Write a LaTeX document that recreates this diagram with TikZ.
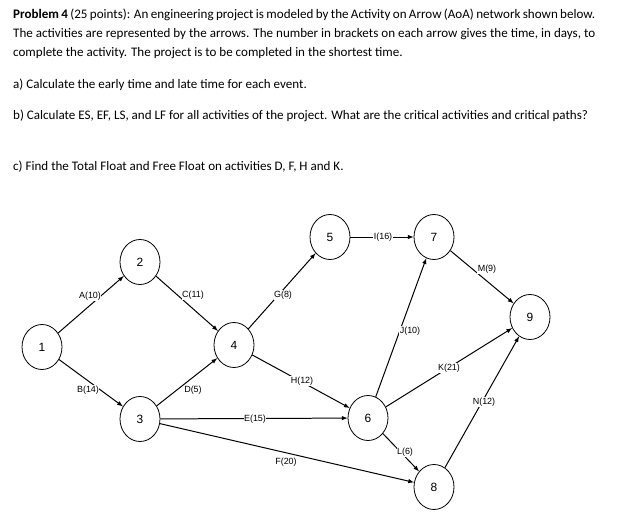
\documentclass[tikz,border=0pt]{standalone}
\usepackage{fontspec}
\usetikzlibrary{shapes.geometric}
\setmainfont{Carlito}
\newfontfamily\lab{Liberation Sans}
\begin{document}
\begin{tikzpicture}[x=1bp,y=-1bp,
  ev/.style={draw,ellipse,minimum width=40bp,minimum height=45bp,inner sep=0pt,line width=0.8pt,font=\lab\fontsize{12}{14}\selectfont},
  arr/.style={-latex,line width=1pt},
  lb/.style={fill=white,inner sep=0.5pt,font=\lab\fontsize{9}{11}\selectfont},
  para/.style={anchor=north west,inner sep=0pt,text width=582bp,align=justify,font=\fontsize{13.1}{19}\selectfont}]
\useasboundingbox (0,0) rectangle (625,525);
\node[para] (t1) at (13,9) {\textbf{Problem 4} (25 points): An engineering project is modeled by the Activity on Arrow (AoA) network shown below. The activities are represented by the arrows. The number in brackets on each arrow gives the time, in days, to complete the activity. The project is to be completed in the shortest time.};
\node[para] (t2) at (13,79) {a) Calculate the early time and late time for each event.};
\node[para] (t3) at (13,110) {b) Calculate ES, EF, LS, and LF for all activities of the project. What are the critical activities and critical paths?};
\node[para] (t4) at (13,161) {c) Find the Total Float and Free Float on activities D, F, H and K.};
\node[ev] (n1) at (42,347) {1};
\node[ev] (n2) at (140,262) {2};
\node[ev] (n3) at (140,419) {3};
\node[ev] (n4) at (234,345) {4};
\node[ev] (n5) at (330,237) {5};
\node[ev] (n7) at (434,237) {7};
\node[ev] (n9) at (530,317) {9};
\node[ev] (n6) at (368,418) {6};
\node[ev] (n8) at (434,487) {8};
\draw[arr] (n1) -- (n2);
\draw[arr] (n1) -- (n3);
\draw[arr] (n2) -- (n4);
\draw[arr] (n3) -- (n4);
\draw[arr] (n4) -- (n5);
\draw[arr] (n4) -- (n6);
\draw[arr] (n3) -- (n6);
\draw[arr] (n3) -- (n8);
\draw[arr] (n5) -- (n7);
\draw[arr] (n6) -- (n7);
\draw[arr] (n6) -- (n9);
\draw[arr] (n6) -- (n8);
\draw[arr] (n7) -- (n9);
\draw[arr] (n8) -- (n9);
\node[lb] (la) at (90,296) {A(10)};
\node[lb] (lb2) at (88,390) {B(14)};
\node[lb] (lc) at (193,295) {C(11)};
\node[lb] (ld) at (193,390) {D(5)};
\node[lb] (le) at (255,419) {E(15)};
\node[lb] (lf) at (286,462) {F(20)};
\node[lb] (lg) at (283,295) {G(8)};
\node[lb] (lh) at (302,381) {H(12)};
\node[lb] (li) at (383,237) {I(16)};
\node[lb] (lj) at (410,331) {J(10)};
\node[lb] (lk) at (449,368) {K(21)};
\node[lb] (ll) at (405,452) {L(6)};
\node[lb] (lm) at (487,269) {M(9)};
\node[lb] (ln) at (484,402) {N(12)};
\end{tikzpicture}
\end{document}
